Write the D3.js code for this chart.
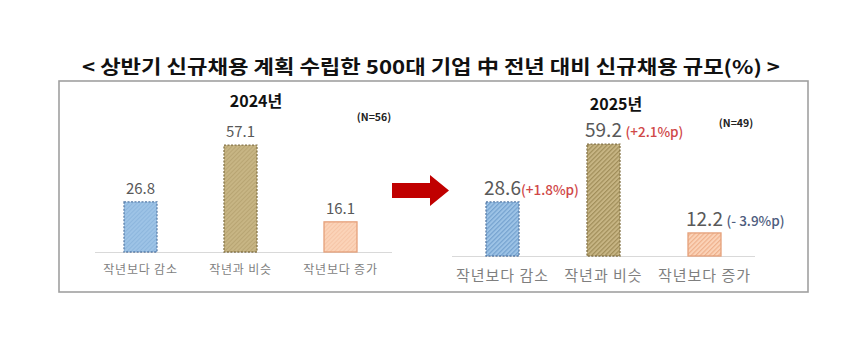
<!DOCTYPE html>
<html><head><meta charset="utf-8">
<script src="https://cdn.jsdelivr.net/npm/d3@7"></script>
<style>body{margin:0;background:#fff}svg{display:block}text{font-family:"Noto Sans CJK KR","Noto Sans",sans-serif}</style>
</head><body>
<svg id="c" width="860" height="347"></svg>
<script>
const title = "< 상반기 신규채용 계획 수립한 500대 기업 中 전년 대비 신규채용 규모(%) >";
const categories = ["작년보다 감소", "작년과 비슷", "작년보다 증가"];
const values2024 = [26.8, 57.1, 16.1];
const values2025 = [28.6, 59.2, 12.2];
const deltas2025 = ["(+1.8%p)", "(+2.1%p)", "(- 3.9%p)"];
const panelTitles = ["2024년", "2025년"];
const sampleSizes = ["(N=56)", "(N=49)"];

const fills = ["#9dc3e6", "#c7b584", "#fbd3b8"];
const strokes = ["#5a7da8", "#857448", "#e5a07a"];
const stripe = ["#6f9ccc", "#9a8752", "#eeac86"];

const svg = d3.select("#c");
const defs = svg.append("defs");
fills.forEach((f, i) => {
  const p1 = defs.append("pattern").attr("id", "fine" + i).attr("patternUnits", "userSpaceOnUse")
    .attr("width", 3).attr("height", 3).attr("patternTransform", "rotate(45)");
  p1.append("rect").attr("width", 3).attr("height", 3).attr("fill", f);
  p1.append("rect").attr("width", 1).attr("height", 3).attr("fill", stripe[i]).attr("opacity", 0.35);
  const p2 = defs.append("pattern").attr("id", "hatch" + i).attr("patternUnits", "userSpaceOnUse")
    .attr("width", 3.2).attr("height", 3.2).attr("patternTransform", "rotate(45)");
  p2.append("rect").attr("width", 3.2).attr("height", 3.2).attr("fill", f);
  p2.append("rect").attr("width", 1.2).attr("height", 3.2).attr("fill", stripe[i]).attr("opacity", 0.85);
});

svg.append("text").attr("x", 431).attr("y", 74).attr("text-anchor", "middle")
  .attr("font-size", 19).attr("font-weight", 700).attr("fill", "#111")
  .attr("textLength", 698).attr("lengthAdjust", "spacingAndGlyphs").text(title);

svg.append("rect").attr("x", 59).attr("y", 81).attr("width", 749).attr("height", 211)
  .attr("fill", "none").attr("stroke", "#a0a0a0").attr("stroke-width", 1.6);

const panels = [
  {vals: values2024, range: [140.5, 340.5], base: 252, ppu: 1.872, line: [95, 392], pat: "fine",
   titleX: 256, titleY: 107, titleSize: 16, nX: 374, nY: 121, valSize: 15, valGap: 8, catY: 274, catSize: 12, catLs: 0.8},
  {vals: values2025, range: [502.5, 704.5], base: 256, ppu: 1.89, line: [452, 755], pat: "hatch",
   titleX: 616, titleY: 110, titleSize: 16, nX: 736, nY: 127, valSize: 19, valGap: 7, catY: 281, catSize: 15, catLs: 1}
];

panels.forEach((P, pi) => {
  const x = d3.scalePoint().domain(categories).range(P.range);
  const y = d3.scaleLinear().domain([0, 100]).range([P.base, P.base - 100 * P.ppu]);
  const bw = 33;
  const g = svg.append("g");
  g.append("line").attr("x1", P.line[0]).attr("x2", P.line[1]).attr("y1", P.base + 0.5).attr("y2", P.base + 0.5)
    .attr("stroke", "#d9d9d9").attr("stroke-width", 1.2);
  g.selectAll("rect.bar").data(P.vals).join("rect").attr("class", "bar")
    .attr("x", (d, i) => x(categories[i]) - bw / 2).attr("width", bw)
    .attr("y", d => y(d)).attr("height", d => P.base - y(d))
    .attr("fill", (d, i) => `url(#${P.pat}${i})`)
    .attr("stroke", (d, i) => strokes[i]).attr("stroke-width", 1.3)
    .attr("stroke-dasharray", (d, i) => i === 2 ? null : "2,1.5");
  g.selectAll("text.val").data(P.vals).join("text").attr("class", "val")
    .attr("x", (d, i) => x(categories[i])).attr("y", d => y(d) - P.valGap)
    .attr("text-anchor", "middle").attr("font-size", P.valSize).attr("font-weight", 400)
    .attr("fill", "#595959").text(d => d.toFixed(1));
  g.selectAll("text.cat").data(categories).join("text").attr("class", "cat")
    .attr("x", d => x(d)).attr("y", P.catY).attr("text-anchor", "middle")
    .attr("font-size", P.catSize).attr("letter-spacing", P.catLs).attr("fill", "#7f7f7f").text(d => d);
  g.append("text").attr("x", P.titleX).attr("y", P.titleY).attr("text-anchor", "middle")
    .attr("font-size", P.titleSize).attr("font-weight", 700).attr("fill", "#111").text(panelTitles[pi]);
  g.append("text").attr("x", P.nX).attr("y", P.nY).attr("text-anchor", "middle")
    .attr("font-size", 10.5).attr("font-weight", 700).attr("fill", "#222").text(sampleSizes[pi]);
  if (pi === 1) {
    g.selectAll("text.delta").data(deltas2025).join("text").attr("class", "delta")
      .attr("x", (d, i) => x(categories[i]) + (i === 0 ? 18.5 : 22))
      .attr("y", (d, i) => y(P.vals[i]) - P.valGap)
      .attr("font-size", 13.5).attr("font-weight", 500)
      .attr("fill", (d, i) => d.startsWith("(-") ? "#4e5d7e" : "#d04848").text(d => d);
  }
});

const arrow = d3.path();
arrow.moveTo(392, 183); arrow.lineTo(430, 183); arrow.lineTo(430, 175); arrow.lineTo(449, 190.5);
arrow.lineTo(430, 206); arrow.lineTo(430, 198); arrow.lineTo(392, 198); arrow.closePath();
svg.append("path").attr("d", arrow.toString()).attr("fill", "#c00000");
</script>
</body></html>
